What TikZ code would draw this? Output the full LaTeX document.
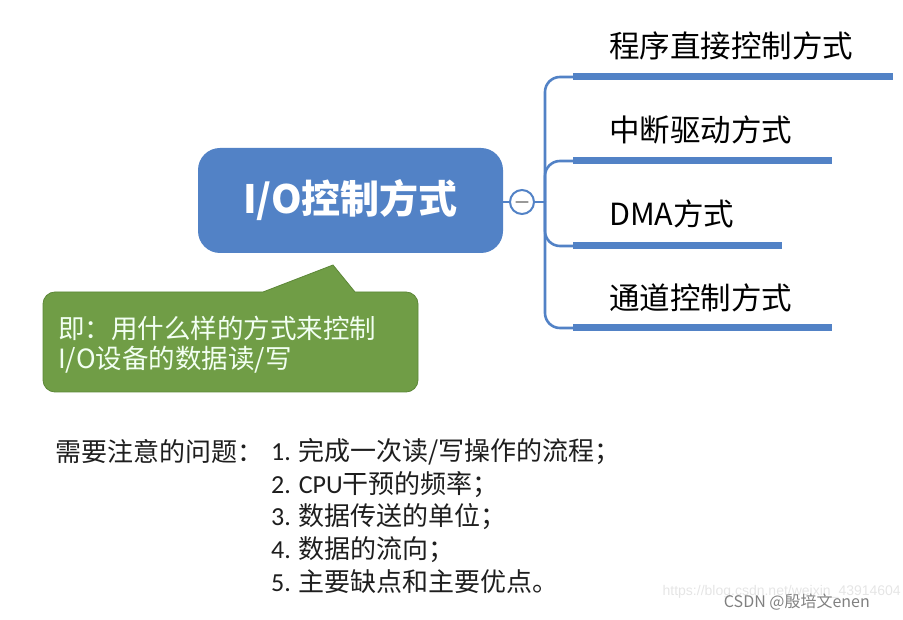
\documentclass[tikz,border=0pt]{standalone}
\usepackage{fontspec}
\newfontfamily\cjk{Noto Sans CJK SC}
\newfontfamily\carl{Carlito}
\newfontfamily\wm{Liberation Sans}
\definecolor{mainblue}{RGB}{82,130,198}
\definecolor{calloutgreen}{RGB}{112,157,70}
\definecolor{calloutedge}{RGB}{92,135,55}
\definecolor{txtdark}{RGB}{30,30,30}
\tikzset{
  mainbox/.style={fill=mainblue, rounded corners=22pt, minimum width=305pt, minimum height=105pt, text=white, font=\cjk\bfseries\fontsize{39}{42}\selectfont},
  branchline/.style={draw=mainblue, line width=2.6pt},
  barline/.style={draw=mainblue, line width=7pt},
  sublabel/.style={anchor=west, inner sep=0pt, text=black, font=\cjk\fontsize{30.5}{33}\selectfont},
  callouttxt/.style={anchor=west, inner sep=0pt, text=white!95!green, font=\cjk\fontsize{26.5}{29}\selectfont},
  notetxt/.style={anchor=west, inner sep=0pt, text=txtdark, font=\cjk\fontsize{26}{29}\selectfont}
}
\begin{document}
\begin{tikzpicture}[x=1pt,y=-1pt]
\useasboundingbox (0,0) rectangle (903,620);
% main node
\node[mainbox] (main) at (350.5,200.5) {I/O控制方式};
% collapse circle
\node[circle, draw=mainblue, fill=white, line width=2pt, minimum size=24pt, inner sep=0pt] (col) at (522,202) {};
\draw[gray!80, line width=2.8pt, line cap=round] ([xshift=-5.5pt]col.center) -- ([xshift=5.5pt]col.center);
\draw[branchline] (main.east |- col.west) -- (col.west);
% branch junction and bars
\coordinate (j) at (545,202);
\coordinate (b1s) at (573,77);  \coordinate (b1e) at (893,77);
\coordinate (b2s) at (573,161); \coordinate (b2e) at (832,161);
\coordinate (b3s) at (573,246); \coordinate (b3e) at (782,246);
\coordinate (b4s) at (573,328); \coordinate (b4e) at (832,328);
\draw[branchline] (col.east) -- (j);
\draw[branchline, rounded corners=15pt] (j) |- (b1s);
\draw[branchline, rounded corners=15pt] (j) |- (b2s);
\draw[branchline, rounded corners=15pt] (j) |- (b3s);
\draw[branchline, rounded corners=15pt] (j) |- (b4s);
\draw[barline] (b1s) -- (b1e);
\draw[barline] (b2s) -- (b2e);
\draw[barline] (b3s) -- (b3e);
\draw[barline] (b4s) -- (b4e);
\node[sublabel] (l1) at (609,46) {程序直接控制方式};
\node[sublabel] (l2) at (609,130) {中断驱动方式};
\node[sublabel] (l3) at (609,214) {DMA方式};
\node[sublabel] (l4) at (609,298) {通道控制方式};
% callout
\filldraw[fill=calloutgreen, draw=calloutedge, line width=0.8pt]
  (200,292) -- (263,292) -- (333,265) -- (355,292) [rounded corners=12pt] -- (418,292) -- (418,392) -- (43,392) -- (43,292) -- cycle;
\node[callouttxt] (c1) at (58,328) {即：用什么样的方式来控制};
\node[callouttxt] (c2) at (58,360) {I/O设备的数据读/写};
% notes
\node[notetxt] (n0) at (55,452) {需要注意的问题：};
\node[notetxt] (n1) at (271,452) {{\carl 1. }完成一次读/写操作的流程；};
\node[notetxt] (n2) at (271,485) {{\carl 2. CPU}干预的频率；};
\node[notetxt] (n3) at (271,517) {{\carl 3. }数据传送的单位；};
\node[notetxt] (n4) at (271,550) {{\carl 4. }数据的流向；};
\node[notetxt] (n5) at (271,582) {{\carl 5. }主要缺点和主要优点。};
% watermark
\node[anchor=east, inner sep=0pt, text=black!10, font=\wm\fontsize{14}{16}\selectfont] (wm1) at (901,592) {https://blog.csdn.net/weixin\_43914604};
\node[anchor=east, inner sep=0pt, text=black!50, font=\cjk\fontsize{16}{18}\selectfont] (wm2) at (870,602) {CSDN @殷培文enen};
\end{tikzpicture}
\end{document}
